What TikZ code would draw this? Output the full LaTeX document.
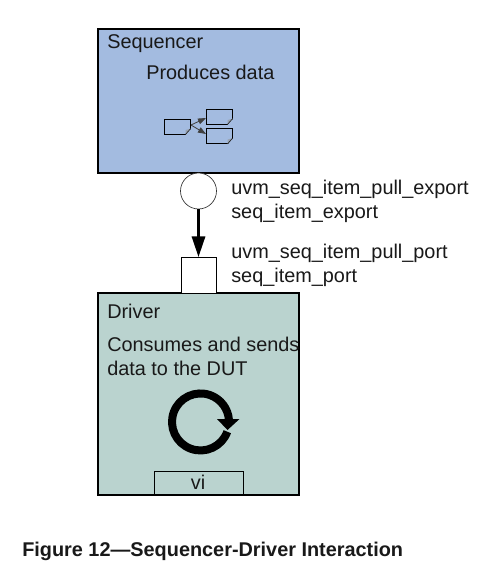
\documentclass[tikz,border=0pt]{standalone}
\usepackage{fontspec}
\setmainfont{Liberation Sans}
\usetikzlibrary{arrows.meta}
\definecolor{seqblue}{HTML}{A3BBE0}
\definecolor{drvgreen}{HTML}{BAD3CF}
\tikzset{
  block/.style={draw=black,line width=1.6pt,minimum width=150.75pt,anchor=north west,inner sep=0pt,outer sep=0pt},
  lbl/.style={anchor=base west,inner sep=0pt,font=\fontsize{14.9pt}{17pt}\selectfont,text=black!90},
  doc/.style={draw=black,line width=0.7pt,fill=none,minimum width=20pt,minimum height=11.5pt,inner sep=0pt,outer sep=0pt,anchor=north west},
  thin box/.style={draw=black,line width=0.7pt,inner sep=0pt,outer sep=0pt,anchor=north west},
  flow/.style={line width=0.6pt,black!75,-{Triangle[length=6pt,width=4.4pt]}}
}
\begin{document}
\begin{tikzpicture}[x=0.75pt,y=-0.75pt]
\useasboundingbox[fill=white] (0,0) rectangle (489,573);
\node[block,fill=seqblue,minimum height=108pt] (seq) at (98,29) {};
\node[block,fill=drvgreen,minimum height=151.5pt] (drv) at (98,293) {};
% labels
\node[lbl] (seqt) at (107,48.5) {Sequencer};
\node[lbl] (prod) at (146,79.5) {Produces data};
\node[lbl] (drvt) at (107,318) {Driver};
\node[lbl] (cons) at (107,351) {Consumes and sends};
\node[lbl] (data) at (107,375) {data to the DUT};
\node[lbl] (l1) at (231,195) {uvm\_seq\_item\_pull\_export};
\node[lbl] (l2) at (231,219) {seq\_item\_export};
\node[lbl] (l3) at (231,258) {uvm\_seq\_item\_pull\_port};
\node[lbl] (l4) at (231,282) {seq\_item\_port};
\node[anchor=base west,inner sep=0pt,font=\bfseries\fontsize{14.9pt}{17pt}\selectfont,text=black!90] (cap) at (22,556) {Figure 12—Sequencer-Driver Interaction};
% export / port
\node[circle,draw=black!80,line width=0.5pt,fill=white,minimum size=27pt,inner sep=0pt,outer sep=0pt] (exp) at (198.5,191) {};
\node[thin box,fill=white,minimum width=26.25pt,minimum height=27pt] (prt) at (181,257) {};
\draw[line width=1.7pt,-{Triangle[length=15.5pt,width=10pt]}] (exp.south) -- (prt.north);
% vi
\node[thin box,minimum width=66.75pt,minimum height=18pt] (vi) at (154,471) {};
\node[font=\fontsize{14.9pt}{17pt}\selectfont,inner sep=0pt,text=black!90] (vit) at (198,482) {vi};
% loop
\draw[line width=6pt] (227.3,431.7) arc[start angle=20,end angle=356,radius=28.5];
\fill (217,419) -- (239.5,419) -- (227.5,430) -- cycle;
% icon
\node[doc] (d1) at (164,119) {};
\node[doc] (d2) at (206,109) {};
\node[doc] (d3) at (206,128.5) {};
\foreach \n in {d1,d2,d3}{
  \fill[seqblue] ([xshift=0.7pt,yshift=4.6pt]\n.south east) -- ([xshift=0.7pt,yshift=-0.7pt]\n.south east) -- ([xshift=-4pt,yshift=-0.7pt]\n.south east) -- cycle;
  \fill[white!45!seqblue!75!black] ([yshift=4.3pt]\n.south east) -- ([xshift=-3.8pt]\n.south east) -- ([xshift=-3.8pt,yshift=3.2pt]\n.south east) -- cycle;
  \draw[line width=0.5pt,black!85] ([yshift=4.3pt]\n.south east) -- ([xshift=-3.8pt]\n.south east);
}
\coordinate (fan) at (191,125);
\draw[flow] (fan) -- (d2.west |- 0,118);
\draw[flow] (fan) -- (d3.west |- 0,134);
\end{tikzpicture}
\end{document}
